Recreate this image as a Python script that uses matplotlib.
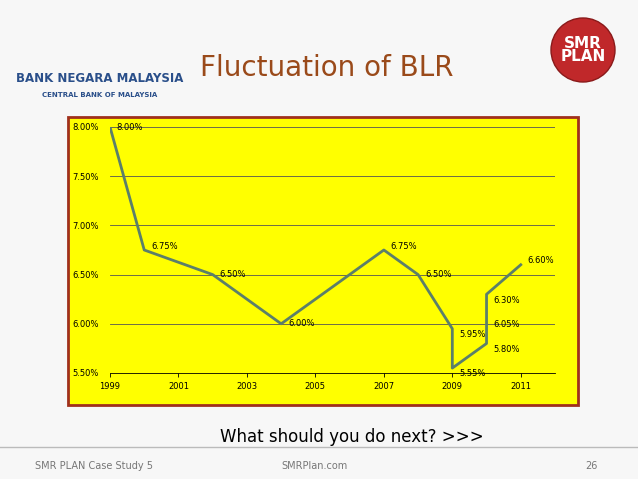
import matplotlib.pyplot as plt
from matplotlib.patches import Rectangle, Ellipse

years = [1999, 2000, 2002, 2004, 2007, 2008, 2009, 2009, 2010, 2010, 2010, 2011]
rates = [8.00, 6.75, 6.50, 6.00, 6.75, 6.50, 5.95, 5.55, 5.80, 6.05, 6.30, 6.60]
labels = ['8.00%', '6.75%', '6.50%', '6.00%', '6.75%', '6.50%', '5.95%', '5.55%',
          '5.80%', '6.05%', '6.30%', '6.60%']
yticks = [5.5, 6.0, 6.5, 7.0, 7.5, 8.0]
xticks = [1999, 2001, 2003, 2005, 2007, 2009, 2011]

W, H = 638, 479
fig = plt.figure(figsize=(6.38, 4.79), dpi=100)
fig.patch.set_facecolor('#f7f7f7')

# yellow chart frame
fig.patches.append(Rectangle((68 / W, 1 - 405 / H), 510 / W, 288 / H, transform=fig.transFigure,
                             facecolor='#ffff00', edgecolor='#a0301c', linewidth=2, zorder=-1))

ax = fig.add_axes([110 / W, 1 - 373 / H, 445 / W, 246 / H])
ax.set_zorder(2)
ax.set_facecolor('none')
ax.plot(years, rates, color='#5b7f6a', linewidth=2)
for i, (x, y, t) in enumerate(zip(years, rates, labels)):
    if i == 0:
        ax.text(x + 0.2, y, t, fontsize=6, va='center', ha='left')
    elif x == 2009 or x == 2010:
        ax.text(x + 0.2, y - 0.06, t, fontsize=6, va='center', ha='left')
    else:
        ax.text(x + 0.2, y + 0.04 if i in (1, 4, 11) else y, t, fontsize=6, va='center', ha='left')
ax.set_xlim(1999, 2012)
ax.set_ylim(5.5, 8.0)
ax.set_yticks(yticks)
ax.set_yticklabels(['%.2f%%' % v for v in yticks], fontsize=6)
ax.set_xticks(xticks)
ax.set_xticklabels([str(v) for v in xticks], fontsize=6)
ax.grid(axis='y', color='#555555', linewidth=0.6)
for s in ['top', 'right', 'left']:
    ax.spines[s].set_visible(False)
ax.spines['bottom'].set_linewidth(0.6)
ax.tick_params(axis='y', length=0, pad=8)
ax.tick_params(axis='x', length=3, width=0.6)

fig.text(200 / W, 1 - 68 / H, 'Fluctuation of BLR', fontsize=20, color='#9a4a1a', va='center')
fig.text(100 / W, 1 - 78 / H, 'BANK NEGARA MALAYSIA', fontsize=8.5, color='#2a4f8a',
         fontweight='bold', ha='center', va='center')
fig.text(100 / W, 1 - 95 / H, 'CENTRAL BANK OF MALAYSIA', fontsize=5, color='#2a4f8a',
         fontweight='bold', ha='center', va='center')
fig.patches.append(Ellipse((583 / W, 1 - 50 / H), 64 / W, 64 / H, transform=fig.transFigure,
                           facecolor='#c0282a', edgecolor='#8a1a1a'))
fig.text(583 / W, 1 - 50 / H, 'SMR\nPLAN', fontsize=11, color='white', fontweight='bold',
         ha='center', va='center', linespacing=0.9)

fig.text(220 / W, 1 - 437 / H, 'What should you do next? >>>', fontsize=12, va='center')
fig.add_artist(plt.Line2D([0, 1], [1 - 447 / H] * 2, color='#bbbbbb', linewidth=1,
                          transform=fig.transFigure))
fig.text(35 / W, 1 - 466 / H, 'SMR PLAN Case Study 5', fontsize=7, color='#777777', va='center')
fig.text(314 / W, 1 - 466 / H, 'SMRPlan.com', fontsize=7, color='#777777', va='center', ha='center')
fig.text(598 / W, 1 - 466 / H, '26', fontsize=7, color='#777777', va='center', ha='right')

fig.savefig('out.png', dpi=100, facecolor=fig.get_facecolor())
